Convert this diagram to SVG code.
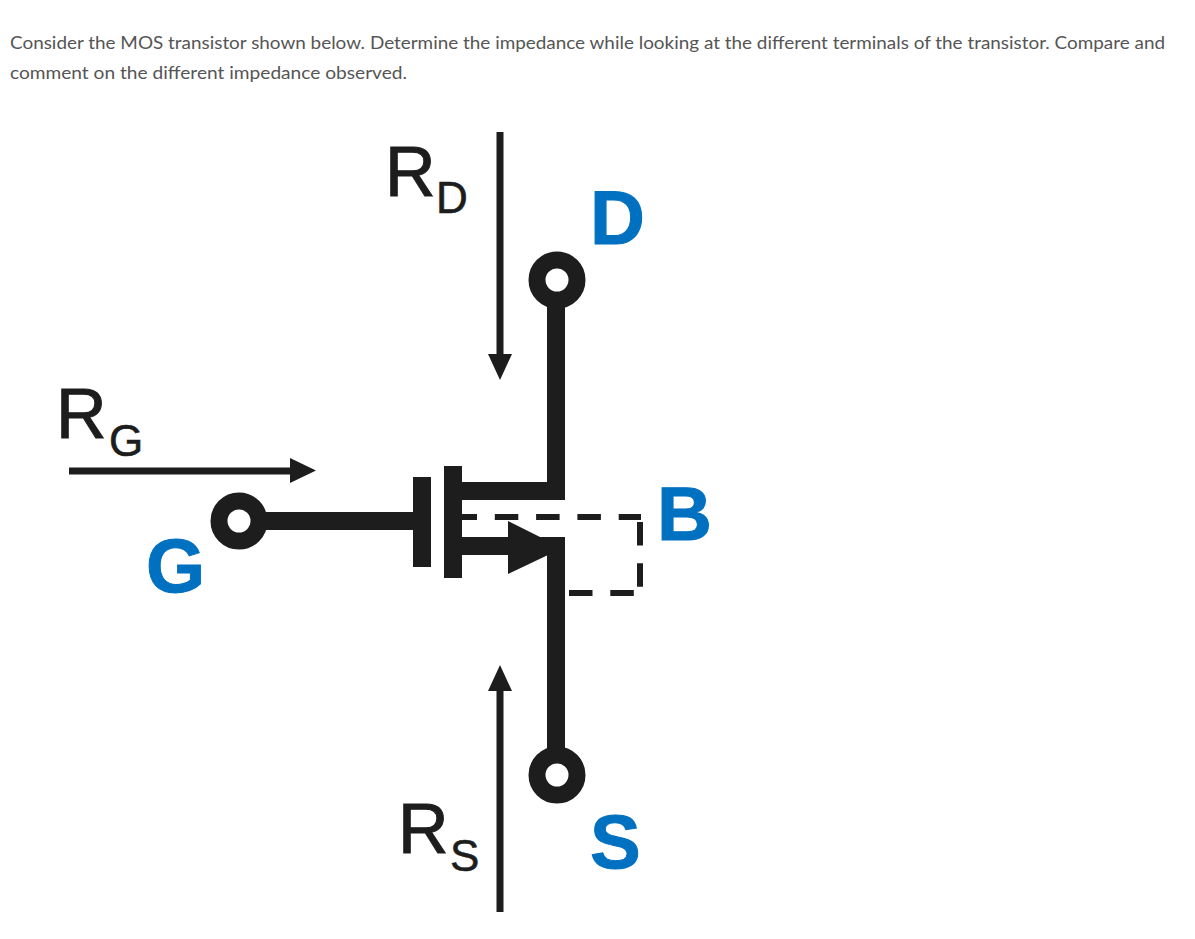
<svg xmlns="http://www.w3.org/2000/svg" width="1195" height="939" viewBox="0 0 1195 939">
<style>
.q{font-family:"Lato","Noto Sans",sans-serif;font-size:17px;fill:#555}
.t{font-family:"Liberation Sans",Arial,sans-serif;font-weight:bold;font-size:76px;fill:#0070c0;stroke:#0070c0;stroke-width:1}
.r{font-family:"Liberation Sans",Arial,sans-serif;font-size:70px;fill:#1d1d1d;stroke:#1d1d1d;stroke-width:1}
.s{font-family:"Liberation Sans",Arial,sans-serif;font-size:44px;fill:#1d1d1d;stroke:#1d1d1d;stroke-width:.6}
.w{fill:none;stroke:#1d1d1d;stroke-width:18}
.a{fill:none;stroke:#1d1d1d;stroke-width:7}
.d{fill:none;stroke:#1d1d1d;stroke-width:6;stroke-dasharray:23.500 17.800}
.k{fill:#1d1d1d}
.c{fill:#fff;stroke:#1d1d1d;stroke-width:17}
</style>
<rect width="1195" height="939" fill="#fff"/>
<g id="question">
<text class="q" x="10" y="49" textLength="1155" lengthAdjust="spacingAndGlyphs">Consider the MOS transistor shown below. Determine the impedance while looking at the different terminals of the transistor. Compare and</text>
<text class="q" x="10" y="79" textLength="397" lengthAdjust="spacingAndGlyphs">comment on the different impedance observed.</text>
</g>
<g id="connectors">
<path class="w" d="M254 521H422M556 300V491H453M453 546H515M556 537V750"/>
<rect class="k" x="413" y="477" width="18" height="90"/>
<rect class="k" x="444" y="466" width="18" height="112"/>
<path class="k" d="M508 521L540 537H565V555H548L508 574Z"/>
<path class="d" d="M453.500 517H641"/>
<path class="d" d="M640 522V587"/>
<path class="d" d="M569 593H635"/>
<path class="a" d="M500 132V356"/>
<path class="k" d="M488 354H512L500 380Z"/>
<path class="a" d="M500 912V690"/>
<path class="k" d="M488 691H512L500 665Z"/>
<path class="a" d="M69 471H292"/>
<path class="k" d="M290 458L316 470.500L290 483Z"/>
</g>
<g id="terminal-D"><circle class="c" cx="557" cy="280" r="20"/><text class="t" x="590" y="244">D</text></g>
<g id="terminal-G"><circle class="c" cx="239" cy="521" r="20"/><text class="t" x="146" y="592">G</text></g>
<g id="terminal-S"><circle class="c" cx="557" cy="775" r="20"/><text class="t" x="590" y="868">S</text></g>
<g id="terminal-B"><text class="t" x="657" y="540">B</text></g>
<g id="label-RD"><text class="r" x="385" y="196">R</text><text class="s" x="436" y="213">D</text></g>
<g id="label-RG"><text class="r" x="56" y="438">R</text><text class="s" x="109" y="456">G</text></g>
<g id="label-RS"><text class="r" x="398" y="853">R</text><text class="s" x="450" y="871">S</text></g>
</svg>
